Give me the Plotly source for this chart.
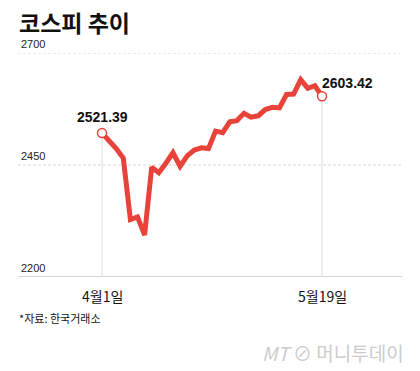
import plotly.graph_objects as go

dates = ["04-01","04-02","04-03","04-04","04-07","04-08","04-09","04-10","04-11",
         "04-14","04-15","04-16","04-17","04-18","04-21","04-22","04-23","04-24","04-25",
         "04-28","04-29","04-30","05-02","05-07","05-08","05-09",
         "05-12","05-13","05-14","05-15","05-16","05-19"]
kospi = [2521.39,2505.86,2486.70,2465.42,2328.20,2334.23,2293.70,2445.06,2432.72,
         2453.86,2477.41,2447.15,2470.37,2483.42,2488.42,2486.64,2525.56,2522.33,2546.30,
         2548.86,2565.42,2556.61,2559.79,2573.80,2578.72,2577.27,
         2607.33,2608.42,2640.57,2621.01,2626.87,2603.42]
y_ticks = [2200, 2450, 2700]
x_tick_labels = {"04-01": "4월1일", "05-19": "5월19일"}

RED = "#e8433a"
NUM_FONT = "Liberation Sans, Noto Sans CJK KR"
KR_FONT = "Noto Sans CJK KR"

fig = go.Figure()
fig.add_trace(go.Scatter(x=dates, y=kospi, mode="lines",
                         line=dict(color=RED, width=5), hoverinfo="skip"))
ends = [0, len(dates) - 1]
fig.add_trace(go.Scatter(x=[dates[i] for i in ends], y=[kospi[i] for i in ends],
                         mode="markers",
                         marker=dict(size=9, color="white", line=dict(color=RED, width=1.5)),
                         hoverinfo="skip"))

shapes = []
for t in y_ticks:
    if t == y_ticks[0]:
        shapes.append(dict(type="line", xref="paper", yref="y", x0=0, x1=1, y0=t, y1=t,
                           line=dict(color="#aaaaaa", width=1.2), layer="below"))
    else:
        shapes.append(dict(type="line", xref="paper", yref="y", x0=0, x1=1, y0=t, y1=t,
                           line=dict(color="#d8d8d8", width=1, dash="3px,2px"), layer="below"))
for i in ends:
    shapes.append(dict(type="line", xref="x", yref="y", x0=i, x1=i, y0=y_ticks[0], y1=kospi[i],
                       line=dict(color="#dddddd", width=1), layer="below"))

ann = []
for t in y_ticks:
    ann.append(dict(xref="paper", yref="y", x=0.003, y=t, text=str(t), showarrow=False,
                    xanchor="left", yanchor="bottom", yshift=1,
                    font=dict(family=NUM_FONT, size=11, color="#222")))
for d, lab in x_tick_labels.items():
    ann.append(dict(xref="x", yref="paper", x=dates.index(d), y=0, text=lab, showarrow=False,
                    xanchor="center", yanchor="top", yshift=-7,
                    font=dict(family=KR_FONT, size=14, color="#111")))
ann.append(dict(xref="x", yref="y", x=0, y=kospi[0], text="<b>%.2f</b>" % kospi[0],
                showarrow=False, xanchor="center", yanchor="bottom", yshift=6,
                font=dict(family=NUM_FONT, size=14, color="#111")))
ann.append(dict(xref="x", yref="y", x=len(dates) - 1, y=kospi[-1], text="<b>%.2f</b>" % kospi[-1],
                showarrow=False, xanchor="left", yanchor="bottom", xshift=-2, yshift=3,
                font=dict(family=NUM_FONT, size=14, color="#111")))
ann.append(dict(xref="paper", yref="paper", x=-0.003, y=1, yshift=31, text="<b>코스피 추이</b>",
                showarrow=False, xanchor="left", yanchor="middle",
                font=dict(family=KR_FONT, size=23, color="#111")))
ann.append(dict(xref="paper", yref="paper", x=-0.003, y=0, yshift=-41, text="*자료: 한국거래소",
                showarrow=False, xanchor="left", yanchor="middle",
                font=dict(family=KR_FONT, size=11, color="#111")))
ann.append(dict(xref="paper", yref="paper", x=1.01, y=0, yshift=-75, text="<i>MT</i> ⊘ 머니투데이",
                showarrow=False, xanchor="right", yanchor="middle",
                font=dict(family=KR_FONT, size=19, color="#cccccc")))

fig.update_layout(
    width=420, height=371,
    margin=dict(l=18, r=18, t=53, b=94),
    paper_bgcolor="white", plot_bgcolor="white",
    showlegend=False,
    xaxis=dict(type="category", range=[-11.84, 42.27], showgrid=False, zeroline=False,
               showticklabels=False, ticks="", showline=False, fixedrange=True),
    yaxis=dict(range=[2200, 2700], showgrid=False, zeroline=False, showticklabels=False,
               ticks="", showline=False, fixedrange=True),
    shapes=shapes, annotations=ann,
)
fig.write_html("out.html", config={"displayModeBar": False},
               post_script="document.body.style.margin='0';document.body.style.overflow='hidden';")
